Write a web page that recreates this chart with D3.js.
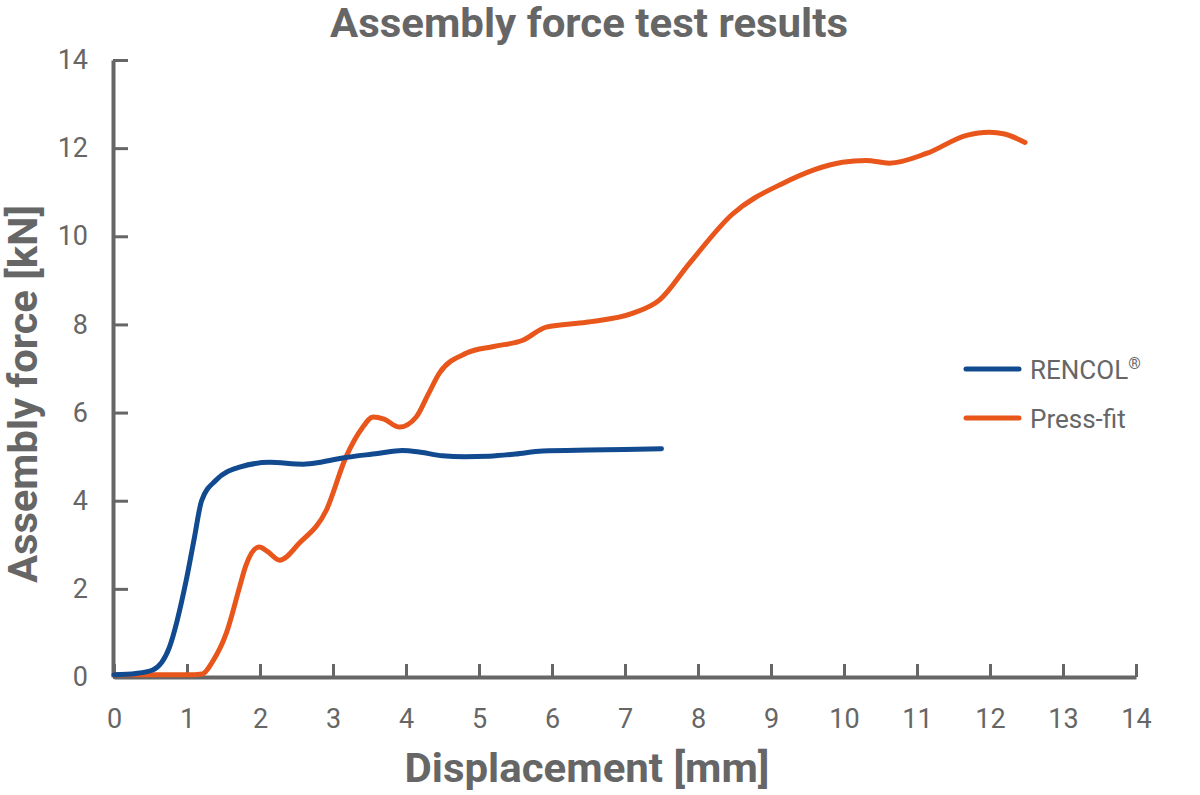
<!DOCTYPE html>
<html>
<head>
<meta charset="utf-8">
<script src="https://cdn.jsdelivr.net/npm/d3@7"></script>
<style>
  body { margin: 0; background: #fff; }
  text { font-family: Roboto, "Noto Sans", sans-serif; }
</style>
</head>
<body>
<div id="chart"></div>
<script>
// displacement [mm] / force [kN]
let rencol_x = [0, 0.3, 0.53, 0.76, 0.99, 1.1, 1.2, 1.4, 1.72, 2.13, 2.59, 2.85, 3.13, 3.61, 3.95, 4.2, 4.5, 4.8, 5.14, 5.5, 5.87, 6.5, 7.0, 7.5]
let rencol_y = [0.05, 0.08, 0.16, 0.68, 2.2, 3.15, 4.0, 4.47, 4.76, 4.87, 4.83, 4.88, 4.97, 5.07, 5.14, 5.1, 5.02, 5.0, 5.01, 5.06, 5.13, 5.15, 5.16, 5.18]
let press_x = [0, 0.6, 1.0, 1.21, 1.35, 1.54, 1.72, 1.8, 1.99, 2.1, 2.27, 2.54, 2.91, 3.18, 3.4, 3.55, 3.7, 3.91, 4.14, 4.3, 4.46, 4.83, 5.2, 5.6, 5.92, 6.47, 7.1, 7.47, 7.88, 8.47, 9.16, 9.98, 10.3, 10.62, 11.13, 11.68, 11.99, 12.2, 12.48]
let press_y = [0.05, 0.05, 0.05, 0.07, 0.35, 1.0, 2.04, 2.5, 2.95, 2.85, 2.65, 3.04, 3.79, 5.0, 5.65, 5.9, 5.85, 5.67, 5.9, 6.4, 6.9, 7.35, 7.5, 7.64, 7.94, 8.05, 8.25, 8.55, 9.38, 10.5, 11.2, 11.68, 11.72, 11.66, 11.88, 12.29, 12.36, 12.32, 12.13]

let x_ticks = d3.range(0, 15, 1)
let y_ticks = d3.range(0, 16, 2)

let series_names = ["RENCOL", "Press-fit"]
let series_colors = ["#124a90", "#e8561b"]
let axis_color = "#666666"

let width = 1200
let height = 795

let svg = d3.select("#chart")
    .append("svg")
    .attr("width", width)
    .attr("height", height)

let x = d3.scaleLinear()
    .domain([0, 14])
    .range([114, 1136])
let y = d3.scaleLinear()
    .domain([0, 14])
    .range([677, 60])

// x axis, ticks pointing inward
let xAxis = svg.append("g")
    .attr("transform", "translate(0," + y(0) + ")")
    .call(d3.axisBottom(x).tickValues(x_ticks).tickSizeInner(-13).tickSizeOuter(0).tickPadding(32))
let yAxis = svg.append("g")
    .attr("transform", "translate(" + (x(0) - 1) + ",0)")
    .call(d3.axisLeft(y).tickValues(y_ticks).tickSizeInner(-15).tickSizeOuter(0).tickPadding(25))

for (let ax of [xAxis, yAxis]) {
    ax.select(".domain")
        .attr("stroke", axis_color)
        .attr("stroke-width", 4)
    ax.selectAll(".tick line")
        .attr("stroke", axis_color)
        .attr("stroke-width", 3)
    ax.selectAll(".tick text")
        .attr("fill", axis_color)
        .style("font-size", "27px")
}

let line = d3.line()
    .x(d => x(d[0]))
    .y(d => y(d[1]))
    .curve(d3.curveMonotoneX)

let series = [
    d3.zip(rencol_x, rencol_y),
    d3.zip(press_x, press_y)
]

// draw press-fit first so RENCOL sits on top where they cross
for (let i of [1, 0]) {
    svg.append("path")
        .datum(series[i])
        .attr("fill", "none")
        .attr("stroke", series_colors[i])
        .attr("stroke-width", 5)
        .attr("stroke-linecap", "round")
        .attr("d", line)
}

// legend
let legend = svg.append("g")
series_names.forEach(function(name, i) {
    let ly = 369 + i * 49
    legend.append("line")
        .attr("x1", 966).attr("x2", 1019)
        .attr("y1", ly).attr("y2", ly)
        .attr("stroke", series_colors[i])
        .attr("stroke-width", 5)
        .attr("stroke-linecap", "round")
    let t = legend.append("text")
        .attr("x", 1030)
        .attr("y", ly + 10)
        .attr("fill", axis_color)
        .style("font-size", "26px")
        .text(name)
    if (i == 0) {
        t.append("tspan")
            .attr("dy", -10)
            .style("font-size", "16px")
            .text("®")
    }
})

// titles
svg.append("text")
    .attr("x", 589)
    .attr("y", 37)
    .attr("text-anchor", "middle")
    .attr("fill", axis_color)
    .attr("font-weight", "bold")
    .attr("textLength", 518)
    .attr("lengthAdjust", "spacingAndGlyphs")
    .style("font-size", "40px")
    .text("Assembly force test results")

svg.append("text")
    .attr("x", 587)
    .attr("y", 782)
    .attr("text-anchor", "middle")
    .attr("fill", axis_color)
    .attr("font-weight", "bold")
    .attr("textLength", 365)
    .attr("lengthAdjust", "spacingAndGlyphs")
    .style("font-size", "40px")
    .text("Displacement [mm]")

svg.append("text")
    .attr("transform", "translate(37,394) rotate(-90)")
    .attr("text-anchor", "middle")
    .attr("fill", axis_color)
    .attr("font-weight", "bold")
    .attr("textLength", 378)
    .attr("lengthAdjust", "spacingAndGlyphs")
    .style("font-size", "40px")
    .text("Assembly force [kN]")
</script>
</body>
</html>
